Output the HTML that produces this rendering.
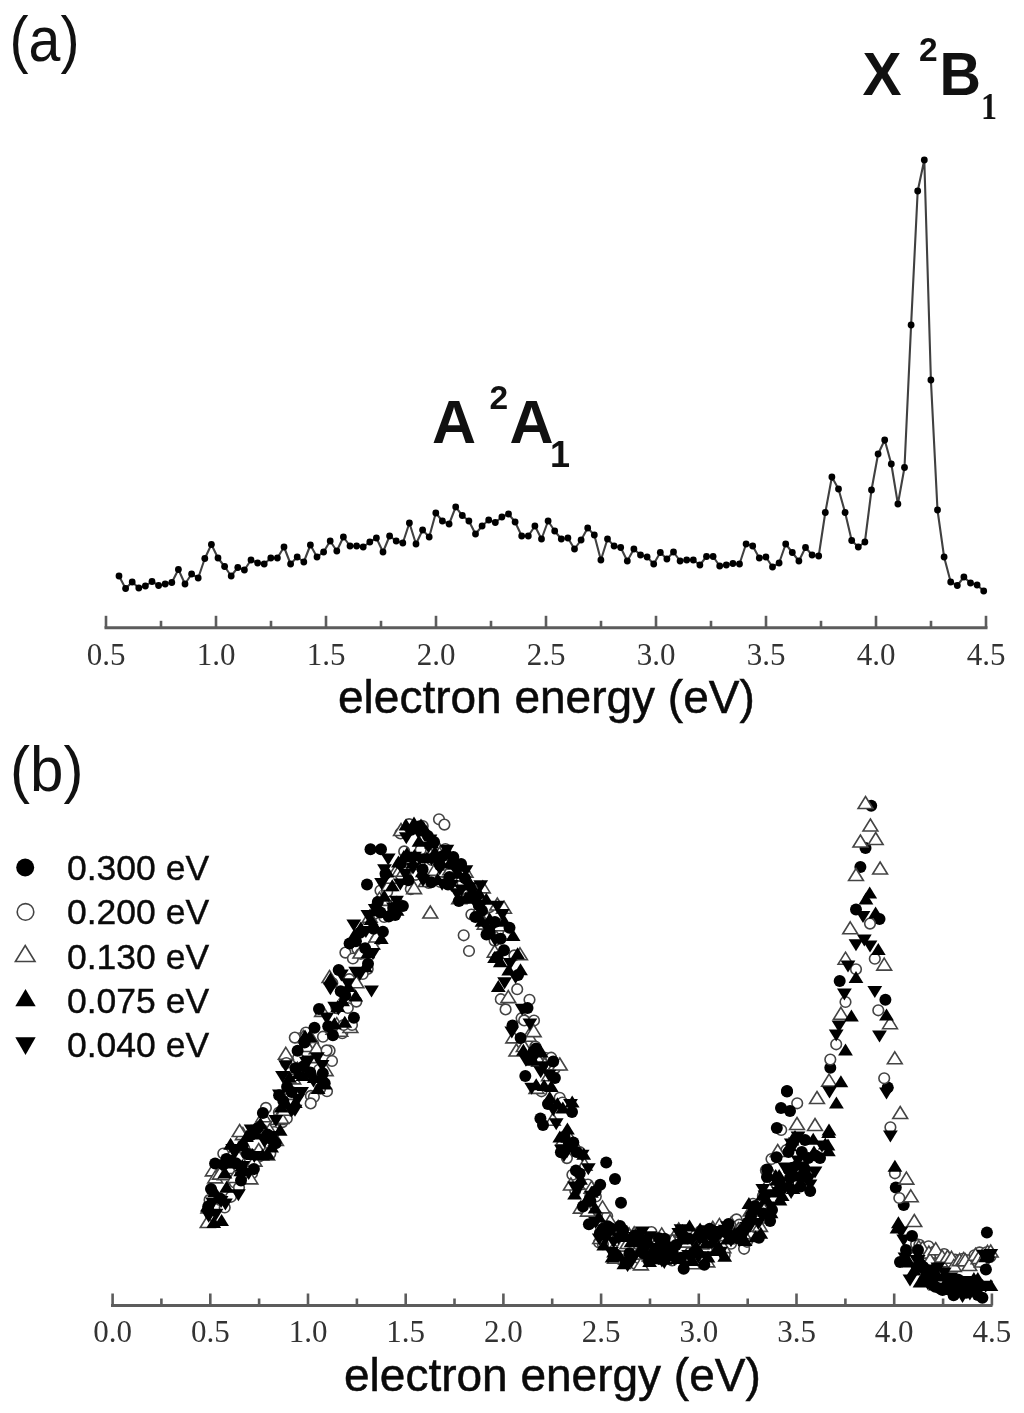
<!DOCTYPE html>
<html><head><meta charset="utf-8"><title>electron energy spectra</title>
<style>
html,body{margin:0;padding:0;background:#fff;}
body{width:1024px;height:1413px;overflow:hidden;}
svg{display:block;}
.tk{font-family:"Liberation Serif","Times New Roman",serif;font-size:31px;fill:#333;text-anchor:middle;}
.lab{font-family:"Liberation Sans",Arial,sans-serif;font-size:46px;fill:#0a0a0a;stroke:#0a0a0a;stroke-width:0.5px;}
.pl{font-family:"Liberation Sans",Arial,sans-serif;font-size:63px;fill:#111;}
.st{font-family:"Liberation Sans",Arial,sans-serif;font-weight:bold;fill:#111;}
.sc .o,.lgm .o{fill:#fff;stroke:#444;stroke-width:1.6;}
.lg{font-family:"Liberation Sans",Arial,sans-serif;font-size:35.5px;fill:#0a0a0a;stroke:#0a0a0a;stroke-width:0.4px;}
</style></head>
<body>
<svg width="1024" height="1413" viewBox="0 0 1024 1413">
<rect width="1024" height="1413" fill="#fff"/>
<text x="9.5" y="60.5" class="pl" textLength="70" lengthAdjust="spacingAndGlyphs">(a)</text>
<text x="10" y="791" class="pl" textLength="73.5" lengthAdjust="spacingAndGlyphs">(b)</text>
<text x="862.5" y="95.2" class="st" font-size="61" textLength="39" lengthAdjust="spacingAndGlyphs">X</text>
<text x="919" y="61.3" class="st" font-size="33.5">2</text>
<text x="939.5" y="95.2" class="st" font-size="61" textLength="41.5" lengthAdjust="spacingAndGlyphs">B</text>
<text x="981" y="119.2" font-family="Liberation Serif, serif" font-weight="bold" font-size="37" fill="#111" textLength="16" lengthAdjust="spacingAndGlyphs">1</text>
<text x="432" y="442.7" class="st" font-size="61">A</text>
<text x="489.5" y="409" class="st" font-size="33.5">2</text>
<text x="509.5" y="442.7" class="st" font-size="61">A</text>
<text x="550" y="467" class="st" font-size="36">1</text>
<text x="338" y="713" class="lab">electron energy (eV)</text>
<text x="344" y="1391" class="lab">electron energy (eV)</text>
<path d="M119 576 L125.6 588.5 L132.2 582 L138.8 588 L145.4 586 L152 581.5 L158.6 585.5 L165.2 584 L171.8 582.5 L178.4 569.5 L185 584 L191.6 574 L198.2 578 L204.8 558.5 L211.4 544.5 L218 558 L224.6 566.5 L231.2 576 L237.8 567.5 L244.4 570 L251 560 L257.6 563 L264.2 564 L270.8 558 L277.4 558 L284 547 L290.6 564 L297.2 557 L303.8 562 L310.4 545 L317 557 L323.6 552 L330.2 541 L336.8 551 L343.4 537 L350 546 L356.6 546 L363.2 547 L369.8 542 L376.4 538 L383 552 L389.6 536 L396.2 541 L402.8 543 L409.4 523 L416 544 L422.6 530 L429.2 537 L435.8 513 L442.4 521 L449.1 524 L455.7 507 L462.3 515.5 L468.9 521 L475.5 534 L482.1 526 L488.7 520 L495.3 522.5 L501.9 517 L508.5 514 L515.1 522 L521.7 536 L528.3 536 L534.9 526 L541.5 539 L548.1 521 L554.7 531 L561.3 539 L567.9 538 L574.5 549 L581.1 540 L587.7 528 L594.3 535 L600.9 560 L607.5 539 L614.1 546 L620.7 547.5 L627.3 561 L633.9 549 L640.5 555 L647.1 557 L653.7 564 L660.3 552.5 L666.9 559 L673.5 552 L680.1 561 L686.7 560 L693.3 560 L699.9 565 L706.5 556.5 L713.1 556.5 L719.7 566 L726.3 565 L732.9 563.5 L739.5 564 L746.1 544 L752.7 546 L759.3 558 L765.9 557 L772.5 567 L779.1 563 L785.7 544 L792.3 552.5 L798.9 561 L805.5 547.5 L812.1 555 L818.7 556 L825.3 512.5 L831.9 477 L838.5 489 L845.1 512.5 L851.7 540.5 L858.3 547 L864.9 542 L871.5 490 L878.1 454 L884.7 440 L891.3 464 L897.9 504 L904.5 467.5 L911.1 325 L917.7 191 L924.3 160 L930.9 380 L937.5 510 L944.1 557 L950.7 582 L957.3 585.5 L963.9 577 L970.5 583 L977.1 585 L983.7 591" fill="none" stroke="#404040" stroke-width="2.1" stroke-linejoin="round"/><g fill="#000"><circle cx="119" cy="576" r="3.4"/><circle cx="125.6" cy="588.5" r="3.4"/><circle cx="132.2" cy="582" r="3.4"/><circle cx="138.8" cy="588" r="3.4"/><circle cx="145.4" cy="586" r="3.4"/><circle cx="152" cy="581.5" r="3.4"/><circle cx="158.6" cy="585.5" r="3.4"/><circle cx="165.2" cy="584" r="3.4"/><circle cx="171.8" cy="582.5" r="3.4"/><circle cx="178.4" cy="569.5" r="3.4"/><circle cx="185" cy="584" r="3.4"/><circle cx="191.6" cy="574" r="3.4"/><circle cx="198.2" cy="578" r="3.4"/><circle cx="204.8" cy="558.5" r="3.4"/><circle cx="211.4" cy="544.5" r="3.4"/><circle cx="218" cy="558" r="3.4"/><circle cx="224.6" cy="566.5" r="3.4"/><circle cx="231.2" cy="576" r="3.4"/><circle cx="237.8" cy="567.5" r="3.4"/><circle cx="244.4" cy="570" r="3.4"/><circle cx="251" cy="560" r="3.4"/><circle cx="257.6" cy="563" r="3.4"/><circle cx="264.2" cy="564" r="3.4"/><circle cx="270.8" cy="558" r="3.4"/><circle cx="277.4" cy="558" r="3.4"/><circle cx="284" cy="547" r="3.4"/><circle cx="290.6" cy="564" r="3.4"/><circle cx="297.2" cy="557" r="3.4"/><circle cx="303.8" cy="562" r="3.4"/><circle cx="310.4" cy="545" r="3.4"/><circle cx="317" cy="557" r="3.4"/><circle cx="323.6" cy="552" r="3.4"/><circle cx="330.2" cy="541" r="3.4"/><circle cx="336.8" cy="551" r="3.4"/><circle cx="343.4" cy="537" r="3.4"/><circle cx="350" cy="546" r="3.4"/><circle cx="356.6" cy="546" r="3.4"/><circle cx="363.2" cy="547" r="3.4"/><circle cx="369.8" cy="542" r="3.4"/><circle cx="376.4" cy="538" r="3.4"/><circle cx="383" cy="552" r="3.4"/><circle cx="389.6" cy="536" r="3.4"/><circle cx="396.2" cy="541" r="3.4"/><circle cx="402.8" cy="543" r="3.4"/><circle cx="409.4" cy="523" r="3.4"/><circle cx="416" cy="544" r="3.4"/><circle cx="422.6" cy="530" r="3.4"/><circle cx="429.2" cy="537" r="3.4"/><circle cx="435.8" cy="513" r="3.4"/><circle cx="442.4" cy="521" r="3.4"/><circle cx="449.1" cy="524" r="3.4"/><circle cx="455.7" cy="507" r="3.4"/><circle cx="462.3" cy="515.5" r="3.4"/><circle cx="468.9" cy="521" r="3.4"/><circle cx="475.5" cy="534" r="3.4"/><circle cx="482.1" cy="526" r="3.4"/><circle cx="488.7" cy="520" r="3.4"/><circle cx="495.3" cy="522.5" r="3.4"/><circle cx="501.9" cy="517" r="3.4"/><circle cx="508.5" cy="514" r="3.4"/><circle cx="515.1" cy="522" r="3.4"/><circle cx="521.7" cy="536" r="3.4"/><circle cx="528.3" cy="536" r="3.4"/><circle cx="534.9" cy="526" r="3.4"/><circle cx="541.5" cy="539" r="3.4"/><circle cx="548.1" cy="521" r="3.4"/><circle cx="554.7" cy="531" r="3.4"/><circle cx="561.3" cy="539" r="3.4"/><circle cx="567.9" cy="538" r="3.4"/><circle cx="574.5" cy="549" r="3.4"/><circle cx="581.1" cy="540" r="3.4"/><circle cx="587.7" cy="528" r="3.4"/><circle cx="594.3" cy="535" r="3.4"/><circle cx="600.9" cy="560" r="3.4"/><circle cx="607.5" cy="539" r="3.4"/><circle cx="614.1" cy="546" r="3.4"/><circle cx="620.7" cy="547.5" r="3.4"/><circle cx="627.3" cy="561" r="3.4"/><circle cx="633.9" cy="549" r="3.4"/><circle cx="640.5" cy="555" r="3.4"/><circle cx="647.1" cy="557" r="3.4"/><circle cx="653.7" cy="564" r="3.4"/><circle cx="660.3" cy="552.5" r="3.4"/><circle cx="666.9" cy="559" r="3.4"/><circle cx="673.5" cy="552" r="3.4"/><circle cx="680.1" cy="561" r="3.4"/><circle cx="686.7" cy="560" r="3.4"/><circle cx="693.3" cy="560" r="3.4"/><circle cx="699.9" cy="565" r="3.4"/><circle cx="706.5" cy="556.5" r="3.4"/><circle cx="713.1" cy="556.5" r="3.4"/><circle cx="719.7" cy="566" r="3.4"/><circle cx="726.3" cy="565" r="3.4"/><circle cx="732.9" cy="563.5" r="3.4"/><circle cx="739.5" cy="564" r="3.4"/><circle cx="746.1" cy="544" r="3.4"/><circle cx="752.7" cy="546" r="3.4"/><circle cx="759.3" cy="558" r="3.4"/><circle cx="765.9" cy="557" r="3.4"/><circle cx="772.5" cy="567" r="3.4"/><circle cx="779.1" cy="563" r="3.4"/><circle cx="785.7" cy="544" r="3.4"/><circle cx="792.3" cy="552.5" r="3.4"/><circle cx="798.9" cy="561" r="3.4"/><circle cx="805.5" cy="547.5" r="3.4"/><circle cx="812.1" cy="555" r="3.4"/><circle cx="818.7" cy="556" r="3.4"/><circle cx="825.3" cy="512.5" r="3.4"/><circle cx="831.9" cy="477" r="3.4"/><circle cx="838.5" cy="489" r="3.4"/><circle cx="845.1" cy="512.5" r="3.4"/><circle cx="851.7" cy="540.5" r="3.4"/><circle cx="858.3" cy="547" r="3.4"/><circle cx="864.9" cy="542" r="3.4"/><circle cx="871.5" cy="490" r="3.4"/><circle cx="878.1" cy="454" r="3.4"/><circle cx="884.7" cy="440" r="3.4"/><circle cx="891.3" cy="464" r="3.4"/><circle cx="897.9" cy="504" r="3.4"/><circle cx="904.5" cy="467.5" r="3.4"/><circle cx="911.1" cy="325" r="3.4"/><circle cx="917.7" cy="191" r="3.4"/><circle cx="924.3" cy="160" r="3.4"/><circle cx="930.9" cy="380" r="3.4"/><circle cx="937.5" cy="510" r="3.4"/><circle cx="944.1" cy="557" r="3.4"/><circle cx="950.7" cy="582" r="3.4"/><circle cx="957.3" cy="585.5" r="3.4"/><circle cx="963.9" cy="577" r="3.4"/><circle cx="970.5" cy="583" r="3.4"/><circle cx="977.1" cy="585" r="3.4"/><circle cx="983.7" cy="591" r="3.4"/></g><line x1="104.5" y1="627.8" x2="987.5" y2="627.8" stroke="#5c5c5c" stroke-width="3"/><line x1="106" y1="627.8" x2="106" y2="615.8" stroke="#5c5c5c" stroke-width="2.6"/><text x="106" y="665" class="tk">0.5</text><line x1="161" y1="627.8" x2="161" y2="620.8" stroke="#5c5c5c" stroke-width="2.6"/><line x1="216" y1="627.8" x2="216" y2="615.8" stroke="#5c5c5c" stroke-width="2.6"/><text x="216" y="665" class="tk">1.0</text><line x1="271" y1="627.8" x2="271" y2="620.8" stroke="#5c5c5c" stroke-width="2.6"/><line x1="326" y1="627.8" x2="326" y2="615.8" stroke="#5c5c5c" stroke-width="2.6"/><text x="326" y="665" class="tk">1.5</text><line x1="381" y1="627.8" x2="381" y2="620.8" stroke="#5c5c5c" stroke-width="2.6"/><line x1="436" y1="627.8" x2="436" y2="615.8" stroke="#5c5c5c" stroke-width="2.6"/><text x="436" y="665" class="tk">2.0</text><line x1="491" y1="627.8" x2="491" y2="620.8" stroke="#5c5c5c" stroke-width="2.6"/><line x1="546" y1="627.8" x2="546" y2="615.8" stroke="#5c5c5c" stroke-width="2.6"/><text x="546" y="665" class="tk">2.5</text><line x1="601" y1="627.8" x2="601" y2="620.8" stroke="#5c5c5c" stroke-width="2.6"/><line x1="656" y1="627.8" x2="656" y2="615.8" stroke="#5c5c5c" stroke-width="2.6"/><text x="656" y="665" class="tk">3.0</text><line x1="711" y1="627.8" x2="711" y2="620.8" stroke="#5c5c5c" stroke-width="2.6"/><line x1="766" y1="627.8" x2="766" y2="615.8" stroke="#5c5c5c" stroke-width="2.6"/><text x="766" y="665" class="tk">3.5</text><line x1="821" y1="627.8" x2="821" y2="620.8" stroke="#5c5c5c" stroke-width="2.6"/><line x1="876" y1="627.8" x2="876" y2="615.8" stroke="#5c5c5c" stroke-width="2.6"/><text x="876" y="665" class="tk">4.0</text><line x1="931" y1="627.8" x2="931" y2="620.8" stroke="#5c5c5c" stroke-width="2.6"/><line x1="986" y1="627.8" x2="986" y2="615.8" stroke="#5c5c5c" stroke-width="2.6"/><text x="986" y="665" class="tk">4.5</text><line x1="111" y1="1305.5" x2="992.5" y2="1305.5" stroke="#5c5c5c" stroke-width="3"/><line x1="112.6" y1="1305.5" x2="112.6" y2="1293.5" stroke="#5c5c5c" stroke-width="2.6"/><text x="112.6" y="1342.3" class="tk">0.0</text><line x1="161.4" y1="1305.5" x2="161.4" y2="1298.5" stroke="#5c5c5c" stroke-width="2.6"/><line x1="210.3" y1="1305.5" x2="210.3" y2="1293.5" stroke="#5c5c5c" stroke-width="2.6"/><text x="210.3" y="1342.3" class="tk">0.5</text><line x1="259.1" y1="1305.5" x2="259.1" y2="1298.5" stroke="#5c5c5c" stroke-width="2.6"/><line x1="308" y1="1305.5" x2="308" y2="1293.5" stroke="#5c5c5c" stroke-width="2.6"/><text x="308" y="1342.3" class="tk">1.0</text><line x1="356.9" y1="1305.5" x2="356.9" y2="1298.5" stroke="#5c5c5c" stroke-width="2.6"/><line x1="405.7" y1="1305.5" x2="405.7" y2="1293.5" stroke="#5c5c5c" stroke-width="2.6"/><text x="405.7" y="1342.3" class="tk">1.5</text><line x1="454.5" y1="1305.5" x2="454.5" y2="1298.5" stroke="#5c5c5c" stroke-width="2.6"/><line x1="503.4" y1="1305.5" x2="503.4" y2="1293.5" stroke="#5c5c5c" stroke-width="2.6"/><text x="503.4" y="1342.3" class="tk">2.0</text><line x1="552.2" y1="1305.5" x2="552.2" y2="1298.5" stroke="#5c5c5c" stroke-width="2.6"/><line x1="601.1" y1="1305.5" x2="601.1" y2="1293.5" stroke="#5c5c5c" stroke-width="2.6"/><text x="601.1" y="1342.3" class="tk">2.5</text><line x1="650" y1="1305.5" x2="650" y2="1298.5" stroke="#5c5c5c" stroke-width="2.6"/><line x1="698.8" y1="1305.5" x2="698.8" y2="1293.5" stroke="#5c5c5c" stroke-width="2.6"/><text x="698.8" y="1342.3" class="tk">3.0</text><line x1="747.7" y1="1305.5" x2="747.7" y2="1298.5" stroke="#5c5c5c" stroke-width="2.6"/><line x1="796.5" y1="1305.5" x2="796.5" y2="1293.5" stroke="#5c5c5c" stroke-width="2.6"/><text x="796.5" y="1342.3" class="tk">3.5</text><line x1="845.4" y1="1305.5" x2="845.4" y2="1298.5" stroke="#5c5c5c" stroke-width="2.6"/><line x1="894.2" y1="1305.5" x2="894.2" y2="1293.5" stroke="#5c5c5c" stroke-width="2.6"/><text x="894.2" y="1342.3" class="tk">4.0</text><line x1="943.1" y1="1305.5" x2="943.1" y2="1298.5" stroke="#5c5c5c" stroke-width="2.6"/><line x1="991.9" y1="1305.5" x2="991.9" y2="1293.5" stroke="#5c5c5c" stroke-width="2.6"/><text x="991.9" y="1342.3" class="tk">4.5</text>
<g class="sc"><circle cx="209.6" cy="1199.9" r="5.3" class="o"/><circle cx="211" cy="1215.3" r="5.3" class="o"/><circle cx="216.2" cy="1164.5" r="5.3" class="o"/><circle cx="220.1" cy="1200" r="5.3" class="o"/><circle cx="223.3" cy="1153.5" r="5.3" class="o"/><circle cx="229.1" cy="1173" r="5.3" class="o"/><circle cx="233.2" cy="1185.9" r="5.3" class="o"/><circle cx="234.8" cy="1182.5" r="5.3" class="o"/><circle cx="239" cy="1187.6" r="5.3" class="o"/><circle cx="244.3" cy="1148.5" r="5.3" class="o"/><circle cx="248.8" cy="1153.9" r="5.3" class="o"/><circle cx="252.1" cy="1173.2" r="5.3" class="o"/><circle cx="254.5" cy="1155.2" r="5.3" class="o"/><circle cx="259.3" cy="1156.4" r="5.3" class="o"/><circle cx="262.1" cy="1129.6" r="5.3" class="o"/><circle cx="265.9" cy="1107.9" r="5.3" class="o"/><circle cx="270.3" cy="1153.6" r="5.3" class="o"/><circle cx="274.3" cy="1132.1" r="5.3" class="o"/><circle cx="278.9" cy="1112.5" r="5.3" class="o"/><circle cx="282.4" cy="1122.1" r="5.3" class="o"/><circle cx="286.8" cy="1118.5" r="5.3" class="o"/><circle cx="290.2" cy="1110.3" r="5.3" class="o"/><circle cx="294.6" cy="1064.1" r="5.3" class="o"/><circle cx="298.1" cy="1058.1" r="5.3" class="o"/><circle cx="300.9" cy="1038.1" r="5.3" class="o"/><circle cx="305.9" cy="1032.5" r="5.3" class="o"/><circle cx="310.9" cy="1095.9" r="5.3" class="o"/><circle cx="313.2" cy="1044.2" r="5.3" class="o"/><circle cx="319.1" cy="1069.8" r="5.3" class="o"/><circle cx="323" cy="1036.7" r="5.3" class="o"/><circle cx="327" cy="1091.2" r="5.3" class="o"/><circle cx="329.6" cy="1050.6" r="5.3" class="o"/><circle cx="332.3" cy="983" r="5.3" class="o"/><circle cx="336.5" cy="1008.1" r="5.3" class="o"/><circle cx="342.3" cy="1033.2" r="5.3" class="o"/><circle cx="345.4" cy="952.6" r="5.3" class="o"/><circle cx="349.2" cy="979.2" r="5.3" class="o"/><circle cx="352.9" cy="958.5" r="5.3" class="o"/><circle cx="357.4" cy="948.9" r="5.3" class="o"/><circle cx="360.8" cy="953.8" r="5.3" class="o"/><circle cx="365.7" cy="951.7" r="5.3" class="o"/><circle cx="367.7" cy="968.9" r="5.3" class="o"/><circle cx="373.4" cy="914.4" r="5.3" class="o"/><circle cx="376.4" cy="939.8" r="5.3" class="o"/><circle cx="380.5" cy="890.5" r="5.3" class="o"/><circle cx="384.1" cy="917" r="5.3" class="o"/><circle cx="387.2" cy="891.8" r="5.3" class="o"/><circle cx="392.6" cy="913.4" r="5.3" class="o"/><circle cx="396.7" cy="901.9" r="5.3" class="o"/><circle cx="400.5" cy="833.4" r="5.3" class="o"/><circle cx="404.2" cy="851.4" r="5.3" class="o"/><circle cx="409.1" cy="824.2" r="5.3" class="o"/><circle cx="410.8" cy="889.1" r="5.3" class="o"/><circle cx="415.8" cy="874.8" r="5.3" class="o"/><circle cx="420.7" cy="849.8" r="5.3" class="o"/><circle cx="422.7" cy="826" r="5.3" class="o"/><circle cx="428.7" cy="882.9" r="5.3" class="o"/><circle cx="431.8" cy="860" r="5.3" class="o"/><circle cx="435.1" cy="846" r="5.3" class="o"/><circle cx="440.4" cy="882" r="5.3" class="o"/><circle cx="443.4" cy="868.6" r="5.3" class="o"/><circle cx="445.4" cy="849.1" r="5.3" class="o"/><circle cx="450.8" cy="876.1" r="5.3" class="o"/><circle cx="455.5" cy="880.8" r="5.3" class="o"/><circle cx="457.9" cy="880.6" r="5.3" class="o"/><circle cx="462.6" cy="883.4" r="5.3" class="o"/><circle cx="466.9" cy="898" r="5.3" class="o"/><circle cx="471.4" cy="914.5" r="5.3" class="o"/><circle cx="473.3" cy="890.3" r="5.3" class="o"/><circle cx="479" cy="906.1" r="5.3" class="o"/><circle cx="483.3" cy="916.7" r="5.3" class="o"/><circle cx="484.6" cy="917.6" r="5.3" class="o"/><circle cx="489.4" cy="907.1" r="5.3" class="o"/><circle cx="494.6" cy="940.6" r="5.3" class="o"/><circle cx="498.4" cy="932.6" r="5.3" class="o"/><circle cx="500.8" cy="999.2" r="5.3" class="o"/><circle cx="505.6" cy="1009.4" r="5.3" class="o"/><circle cx="508.3" cy="934" r="5.3" class="o"/><circle cx="514.4" cy="955.4" r="5.3" class="o"/><circle cx="517.2" cy="989.2" r="5.3" class="o"/><circle cx="521.6" cy="1018.2" r="5.3" class="o"/><circle cx="524.2" cy="1020.4" r="5.3" class="o"/><circle cx="529.5" cy="999.8" r="5.3" class="o"/><circle cx="534" cy="1020.5" r="5.3" class="o"/><circle cx="535.3" cy="1046.6" r="5.3" class="o"/><circle cx="541.5" cy="1091.3" r="5.3" class="o"/><circle cx="545.3" cy="1057.8" r="5.3" class="o"/><circle cx="547.6" cy="1061" r="5.3" class="o"/><circle cx="551.2" cy="1057.7" r="5.3" class="o"/><circle cx="555.1" cy="1068.1" r="5.3" class="o"/><circle cx="559.7" cy="1097.8" r="5.3" class="o"/><circle cx="562.5" cy="1102.5" r="5.3" class="o"/><circle cx="566.9" cy="1158.1" r="5.3" class="o"/><circle cx="572.4" cy="1174.8" r="5.3" class="o"/><circle cx="575.2" cy="1190.6" r="5.3" class="o"/><circle cx="579.8" cy="1152.2" r="5.3" class="o"/><circle cx="582.7" cy="1184.2" r="5.3" class="o"/><circle cx="587.9" cy="1184.6" r="5.3" class="o"/><circle cx="590.3" cy="1196.3" r="5.3" class="o"/><circle cx="595.8" cy="1196.5" r="5.3" class="o"/><circle cx="599.1" cy="1242.5" r="5.3" class="o"/><circle cx="602.9" cy="1244.2" r="5.3" class="o"/><circle cx="607.2" cy="1216.3" r="5.3" class="o"/><circle cx="610.3" cy="1233.6" r="5.3" class="o"/><circle cx="613.9" cy="1250.5" r="5.3" class="o"/><circle cx="617.9" cy="1235.8" r="5.3" class="o"/><circle cx="621.2" cy="1259.8" r="5.3" class="o"/><circle cx="627.7" cy="1237.4" r="5.3" class="o"/><circle cx="629.5" cy="1262" r="5.3" class="o"/><circle cx="634.9" cy="1263.6" r="5.3" class="o"/><circle cx="638.7" cy="1258" r="5.3" class="o"/><circle cx="641.5" cy="1252.5" r="5.3" class="o"/><circle cx="645.3" cy="1257.7" r="5.3" class="o"/><circle cx="651.4" cy="1232.1" r="5.3" class="o"/><circle cx="653.4" cy="1252.7" r="5.3" class="o"/><circle cx="658.6" cy="1237.9" r="5.3" class="o"/><circle cx="660.8" cy="1251.6" r="5.3" class="o"/><circle cx="664.1" cy="1249.6" r="5.3" class="o"/><circle cx="670.4" cy="1240.7" r="5.3" class="o"/><circle cx="672.2" cy="1260.5" r="5.3" class="o"/><circle cx="676.9" cy="1237.3" r="5.3" class="o"/><circle cx="679.8" cy="1237.1" r="5.3" class="o"/><circle cx="685.9" cy="1257.2" r="5.3" class="o"/><circle cx="690.5" cy="1252.1" r="5.3" class="o"/><circle cx="694.1" cy="1246.4" r="5.3" class="o"/><circle cx="695.8" cy="1235.3" r="5.3" class="o"/><circle cx="700.4" cy="1231.4" r="5.3" class="o"/><circle cx="705.3" cy="1240.2" r="5.3" class="o"/><circle cx="708" cy="1242.9" r="5.3" class="o"/><circle cx="711.1" cy="1232.9" r="5.3" class="o"/><circle cx="717.1" cy="1248.4" r="5.3" class="o"/><circle cx="719.7" cy="1235.8" r="5.3" class="o"/><circle cx="724.7" cy="1254.9" r="5.3" class="o"/><circle cx="727.9" cy="1235" r="5.3" class="o"/><circle cx="731" cy="1243.7" r="5.3" class="o"/><circle cx="736.5" cy="1219.4" r="5.3" class="o"/><circle cx="739.3" cy="1224.7" r="5.3" class="o"/><circle cx="744.1" cy="1248.8" r="5.3" class="o"/><circle cx="747" cy="1241.8" r="5.3" class="o"/><circle cx="753" cy="1203.8" r="5.3" class="o"/><circle cx="755.4" cy="1227.2" r="5.3" class="o"/><circle cx="758.8" cy="1228.4" r="5.3" class="o"/><circle cx="762.9" cy="1196.1" r="5.3" class="o"/><circle cx="765.9" cy="1170.3" r="5.3" class="o"/><circle cx="916.1" cy="1244.1" r="5.3" class="o"/><circle cx="919.4" cy="1244.8" r="5.3" class="o"/><circle cx="923.8" cy="1255.7" r="5.3" class="o"/><circle cx="928.5" cy="1246.3" r="5.3" class="o"/><circle cx="931.4" cy="1262.2" r="5.3" class="o"/><circle cx="934.3" cy="1251.7" r="5.3" class="o"/><circle cx="940" cy="1257.9" r="5.3" class="o"/><circle cx="944.1" cy="1254.1" r="5.3" class="o"/><circle cx="947.3" cy="1264.1" r="5.3" class="o"/><circle cx="950.2" cy="1262" r="5.3" class="o"/><circle cx="955.1" cy="1259.6" r="5.3" class="o"/><circle cx="959.1" cy="1260.2" r="5.3" class="o"/><circle cx="962.8" cy="1258.8" r="5.3" class="o"/><circle cx="966.8" cy="1260.5" r="5.3" class="o"/><circle cx="969.6" cy="1260.1" r="5.3" class="o"/><circle cx="974.5" cy="1255.3" r="5.3" class="o"/><circle cx="979.6" cy="1252.4" r="5.3" class="o"/><circle cx="983.6" cy="1263.2" r="5.3" class="o"/><circle cx="986.5" cy="1252.3" r="5.3" class="o"/><circle cx="990.4" cy="1256.7" r="5.3" class="o"/><path d="M208.4 1201L215.8 1213L201 1213Z" class="o"/><path d="M212.8 1163.9L220.2 1175.9L205.4 1175.9Z" class="o"/><path d="M215.2 1170.9L222.6 1182.9L207.8 1182.9Z" class="o"/><path d="M219.9 1167.1L227.3 1179.1L212.5 1179.1Z" class="o"/><path d="M224.8 1167.7L232.2 1179.7L217.4 1179.7Z" class="o"/><path d="M229.3 1161.5L236.7 1173.5L221.9 1173.5Z" class="o"/><path d="M230.6 1149.9L238 1161.9L223.2 1161.9Z" class="o"/><path d="M234.6 1170.5L242 1182.5L227.2 1182.5Z" class="o"/><path d="M238.7 1150.6L246.1 1162.6L231.3 1162.6Z" class="o"/><path d="M242.9 1127.6L250.3 1139.6L235.5 1139.6Z" class="o"/><path d="M247.6 1170.8L255 1182.8L240.2 1182.8Z" class="o"/><path d="M250.4 1171.9L257.8 1183.9L243 1183.9Z" class="o"/><path d="M254.5 1154.1L261.9 1166.1L247.1 1166.1Z" class="o"/><path d="M259.5 1121.9L266.9 1133.9L252.1 1133.9Z" class="o"/><path d="M263.3 1109.7L270.7 1121.7L255.9 1121.7Z" class="o"/><path d="M265.5 1146.9L272.9 1158.9L258.1 1158.9Z" class="o"/><path d="M269.6 1123.7L277 1135.7L262.2 1135.7Z" class="o"/><path d="M276 1133.5L283.4 1145.5L268.6 1145.5Z" class="o"/><path d="M277.4 1112.5L284.8 1124.5L270 1124.5Z" class="o"/><path d="M281.3 1111.4L288.7 1123.4L273.9 1123.4Z" class="o"/><path d="M285.8 1047.3L293.2 1059.3L278.4 1059.3Z" class="o"/><path d="M289.9 1087.4L297.3 1099.4L282.5 1099.4Z" class="o"/><path d="M293.2 1071.9L300.6 1083.9L285.8 1083.9Z" class="o"/><path d="M297.4 1062.3L304.8 1074.3L290 1074.3Z" class="o"/><path d="M303.3 1030.4L310.7 1042.4L295.9 1042.4Z" class="o"/><path d="M307 1039.5L314.4 1051.5L299.6 1051.5Z" class="o"/><path d="M310.5 1030.5L317.9 1042.5L303.1 1042.5Z" class="o"/><path d="M314.5 1050.6L321.9 1062.6L307.1 1062.6Z" class="o"/><path d="M316.7 1041.8L324.1 1053.8L309.3 1053.8Z" class="o"/><path d="M322.1 1004.4L329.5 1016.4L314.7 1016.4Z" class="o"/><path d="M325.7 1063.6L333.1 1075.6L318.3 1075.6Z" class="o"/><path d="M329.5 970.5L336.9 982.5L322.1 982.5Z" class="o"/><path d="M333.5 1022.2L340.9 1034.2L326.1 1034.2Z" class="o"/><path d="M336.7 1017.7L344.1 1029.7L329.3 1029.7Z" class="o"/><path d="M340.3 1024.3L347.7 1036.3L332.9 1036.3Z" class="o"/><path d="M346.5 987.5L353.9 999.5L339.1 999.5Z" class="o"/><path d="M350.4 1020.5L357.8 1032.5L343 1032.5Z" class="o"/><path d="M352 985.4L359.4 997.4L344.6 997.4Z" class="o"/><path d="M356.4 975.8L363.8 987.8L349 987.8Z" class="o"/><path d="M360.4 946L367.8 958L353 958Z" class="o"/><path d="M365.7 919.5L373.1 931.5L358.3 931.5Z" class="o"/><path d="M369.7 910.2L377.1 922.2L362.3 922.2Z" class="o"/><path d="M372.2 937.1L379.6 949.1L364.8 949.1Z" class="o"/><path d="M376.4 930L383.8 942L369 942Z" class="o"/><path d="M379.4 892.2L386.8 904.2L372 904.2Z" class="o"/><path d="M383.7 893.4L391.1 905.4L376.3 905.4Z" class="o"/><path d="M388.8 878.5L396.2 890.5L381.4 890.5Z" class="o"/><path d="M392.4 871.3L399.8 883.3L385 883.3Z" class="o"/><path d="M396.9 862.8L404.3 874.8L389.5 874.8Z" class="o"/><path d="M399.4 864.2L406.8 876.2L392 876.2Z" class="o"/><path d="M404.2 864.2L411.6 876.2L396.8 876.2Z" class="o"/><path d="M408 872.3L415.4 884.3L400.6 884.3Z" class="o"/><path d="M411.7 852.9L419.1 864.9L404.3 864.9Z" class="o"/><path d="M414.1 881.6L421.5 893.6L406.7 893.6Z" class="o"/><path d="M419.5 855.2L426.9 867.2L412.1 867.2Z" class="o"/><path d="M422.5 821L429.9 833L415.1 833Z" class="o"/><path d="M425.9 874.5L433.3 886.5L418.5 886.5Z" class="o"/><path d="M432.5 870L439.9 882L425.1 882Z" class="o"/><path d="M434.8 863.4L442.2 875.4L427.4 875.4Z" class="o"/><path d="M439.6 847.1L447 859.1L432.2 859.1Z" class="o"/><path d="M443.1 864.7L450.5 876.7L435.7 876.7Z" class="o"/><path d="M446 858L453.4 870L438.6 870Z" class="o"/><path d="M450.3 862.7L457.7 874.7L442.9 874.7Z" class="o"/><path d="M455.4 856.8L462.8 868.8L448 868.8Z" class="o"/><path d="M459.2 891.8L466.6 903.8L451.8 903.8Z" class="o"/><path d="M462.9 869.1L470.3 881.1L455.5 881.1Z" class="o"/><path d="M465.6 865.1L473 877.1L458.2 877.1Z" class="o"/><path d="M471.4 885.1L478.8 897.1L464 897.1Z" class="o"/><path d="M473.7 884.3L481.1 896.3L466.3 896.3Z" class="o"/><path d="M477 906.3L484.4 918.3L469.6 918.3Z" class="o"/><path d="M482.8 880.9L490.2 892.9L475.4 892.9Z" class="o"/><path d="M484.7 917.1L492.1 929.1L477.3 929.1Z" class="o"/><path d="M491.1 922.5L498.5 934.5L483.7 934.5Z" class="o"/><path d="M494.7 945.1L502.1 957.1L487.3 957.1Z" class="o"/><path d="M497.3 898L504.7 910L489.9 910Z" class="o"/><path d="M500.1 918.7L507.5 930.7L492.7 930.7Z" class="o"/><path d="M504 901.2L511.4 913.2L496.6 913.2Z" class="o"/><path d="M508.3 990.6L515.7 1002.6L500.9 1002.6Z" class="o"/><path d="M513.3 1030.9L520.7 1042.9L505.9 1042.9Z" class="o"/><path d="M516.4 1044L523.8 1056L509 1056Z" class="o"/><path d="M520 947.8L527.4 959.8L512.6 959.8Z" class="o"/><path d="M523.8 1039.5L531.2 1051.5L516.4 1051.5Z" class="o"/><path d="M528.7 1029.2L536.1 1041.2L521.3 1041.2Z" class="o"/><path d="M533.7 1024.6L541.1 1036.6L526.3 1036.6Z" class="o"/><path d="M536.5 1081.4L543.9 1093.4L529.1 1093.4Z" class="o"/><path d="M539.1 1054.3L546.5 1066.3L531.7 1066.3Z" class="o"/><path d="M544.8 1057.9L552.2 1069.9L537.4 1069.9Z" class="o"/><path d="M549 1068.7L556.4 1080.7L541.6 1080.7Z" class="o"/><path d="M552.8 1113.2L560.2 1125.2L545.4 1125.2Z" class="o"/><path d="M555.9 1057.8L563.3 1069.8L548.5 1069.8Z" class="o"/><path d="M559.8 1058L567.2 1070L552.4 1070Z" class="o"/><path d="M563.5 1132.8L570.9 1144.8L556.1 1144.8Z" class="o"/><path d="M569.1 1130.3L576.5 1142.3L561.7 1142.3Z" class="o"/><path d="M570.9 1178L578.3 1190L563.5 1190Z" class="o"/><path d="M575.3 1139.5L582.7 1151.5L567.9 1151.5Z" class="o"/><path d="M580.8 1201.1L588.2 1213.1L573.4 1213.1Z" class="o"/><path d="M584.5 1158.1L591.9 1170.1L577.1 1170.1Z" class="o"/><path d="M587.9 1204.1L595.3 1216.1L580.5 1216.1Z" class="o"/><path d="M591.5 1181.2L598.9 1193.2L584.1 1193.2Z" class="o"/><path d="M596.6 1213.7L604 1225.7L589.2 1225.7Z" class="o"/><path d="M600.2 1231.5L607.6 1243.5L592.8 1243.5Z" class="o"/><path d="M602.5 1200.9L609.9 1212.9L595.1 1212.9Z" class="o"/><path d="M605.8 1222.6L613.2 1234.6L598.4 1234.6Z" class="o"/><path d="M610.1 1214.6L617.5 1226.6L602.7 1226.6Z" class="o"/><path d="M615 1251.2L622.4 1263.2L607.6 1263.2Z" class="o"/><path d="M618.2 1220.5L625.6 1232.5L610.8 1232.5Z" class="o"/><path d="M622 1239.1L629.4 1251.1L614.6 1251.1Z" class="o"/><path d="M627.5 1236.5L634.9 1248.5L620.1 1248.5Z" class="o"/><path d="M629.1 1227.8L636.5 1239.8L621.7 1239.8Z" class="o"/><path d="M634.2 1226.8L641.6 1238.8L626.8 1238.8Z" class="o"/><path d="M637.8 1247.1L645.2 1259.1L630.4 1259.1Z" class="o"/><path d="M640.9 1257.9L648.3 1269.9L633.5 1269.9Z" class="o"/><path d="M644.8 1233.7L652.2 1245.7L637.4 1245.7Z" class="o"/><path d="M649.8 1249L657.2 1261L642.4 1261Z" class="o"/><path d="M654.7 1241.9L662.1 1253.9L647.3 1253.9Z" class="o"/><path d="M658.1 1233.5L665.5 1245.5L650.7 1245.5Z" class="o"/><path d="M661.7 1227.9L669.1 1239.9L654.3 1239.9Z" class="o"/><path d="M665.4 1241.6L672.8 1253.6L658 1253.6Z" class="o"/><path d="M668.4 1237.3L675.8 1249.3L661 1249.3Z" class="o"/><path d="M672.4 1234L679.8 1246L665 1246Z" class="o"/><path d="M678.7 1223L686.1 1235L671.3 1235Z" class="o"/><path d="M682.4 1225.3L689.8 1237.3L675 1237.3Z" class="o"/><path d="M684.3 1229.4L691.7 1241.4L676.9 1241.4Z" class="o"/><path d="M687.6 1235.1L695 1247.1L680.2 1247.1Z" class="o"/><path d="M692.6 1256.8L700 1268.8L685.2 1268.8Z" class="o"/><path d="M696 1240.8L703.4 1252.8L688.6 1252.8Z" class="o"/><path d="M701.3 1237L708.7 1249L693.9 1249Z" class="o"/><path d="M704.2 1229.4L711.6 1241.4L696.8 1241.4Z" class="o"/><path d="M707.3 1254.9L714.7 1266.9L699.9 1266.9Z" class="o"/><path d="M712.8 1221.3L720.2 1233.3L705.4 1233.3Z" class="o"/><path d="M715.3 1226.1L722.7 1238.1L707.9 1238.1Z" class="o"/><path d="M719.4 1218.4L726.8 1230.4L712 1230.4Z" class="o"/><path d="M723.4 1240.6L730.8 1252.6L716 1252.6Z" class="o"/><path d="M726.8 1228.5L734.2 1240.5L719.4 1240.5Z" class="o"/><path d="M731.2 1216.9L738.6 1228.9L723.8 1228.9Z" class="o"/><path d="M735.6 1225.2L743 1237.2L728.2 1237.2Z" class="o"/><path d="M738.4 1222.7L745.8 1234.7L731 1234.7Z" class="o"/><path d="M743.3 1226.9L750.7 1238.9L735.9 1238.9Z" class="o"/><path d="M748.8 1213.2L756.2 1225.2L741.4 1225.2Z" class="o"/><path d="M750.6 1203.9L758 1215.9L743.2 1215.9Z" class="o"/><path d="M755.6 1219.2L763 1231.2L748.2 1231.2Z" class="o"/><path d="M760 1219.4L767.4 1231.4L752.6 1231.4Z" class="o"/><path d="M764 1203.3L771.4 1215.3L756.6 1215.3Z" class="o"/><path d="M766 1211L773.4 1223L758.6 1223Z" class="o"/><path d="M769.8 1164.6L777.2 1176.6L762.4 1176.6Z" class="o"/><path d="M918.8 1240.7L926.2 1252.7L911.4 1252.7Z" class="o"/><path d="M922.5 1241.4L929.9 1253.4L915.1 1253.4Z" class="o"/><path d="M928.9 1246.1L936.3 1258.1L921.5 1258.1Z" class="o"/><path d="M930 1253.3L937.4 1265.3L922.6 1265.3Z" class="o"/><path d="M935.7 1242.7L943.1 1254.7L928.3 1254.7Z" class="o"/><path d="M940.4 1254.9L947.8 1266.9L933 1266.9Z" class="o"/><path d="M942.1 1250.1L949.5 1262.1L934.7 1262.1Z" class="o"/><path d="M947.6 1250.3L955 1262.3L940.2 1262.3Z" class="o"/><path d="M951.5 1251.3L958.9 1263.3L944.1 1263.3Z" class="o"/><path d="M953.9 1259.4L961.3 1271.4L946.5 1271.4Z" class="o"/><path d="M959.6 1253.6L967 1265.6L952.2 1265.6Z" class="o"/><path d="M963.7 1252.4L971.1 1264.4L956.3 1264.4Z" class="o"/><path d="M965.2 1253.7L972.6 1265.7L957.8 1265.7Z" class="o"/><path d="M969.3 1258.5L976.7 1270.5L961.9 1270.5Z" class="o"/><path d="M975.5 1248.3L982.9 1260.3L968.1 1260.3Z" class="o"/><path d="M978.6 1251.6L986 1263.6L971.2 1263.6Z" class="o"/><path d="M981.8 1255L989.2 1267L974.4 1267Z" class="o"/><path d="M987.5 1245.3L994.9 1257.3L980.1 1257.3Z" class="o"/><path d="M990.7 1245L998.1 1257L983.3 1257Z" class="o"/><circle cx="797.2" cy="1103.3" r="5.3" class="o"/><circle cx="781.2" cy="1130" r="5.3" class="o"/><circle cx="771.5" cy="1159" r="5.3" class="o"/><circle cx="786.5" cy="1150" r="5.3" class="o"/><circle cx="320.2" cy="1088.6" r="5.3" class="o"/><circle cx="313.9" cy="1097" r="5.3" class="o"/><circle cx="310.7" cy="1103.4" r="5.3" class="o"/><circle cx="326.6" cy="1050.4" r="5.3" class="o"/><circle cx="332" cy="1061" r="5.3" class="o"/><circle cx="343.6" cy="1025" r="5.3" class="o"/><circle cx="352" cy="1025" r="5.3" class="o"/><circle cx="356.3" cy="1001.6" r="5.3" class="o"/><circle cx="347.8" cy="1008" r="5.3" class="o"/><circle cx="362.7" cy="974" r="5.3" class="o"/><circle cx="224.7" cy="1207.5" r="5.3" class="o"/><circle cx="231" cy="1196.8" r="5.3" class="o"/><circle cx="294.8" cy="1037.6" r="5.3" class="o"/><circle cx="286.3" cy="1063" r="5.3" class="o"/><circle cx="439" cy="819.3" r="5.3" class="o"/><circle cx="444.4" cy="824.6" r="5.3" class="o"/><circle cx="463.7" cy="935.3" r="5.3" class="o"/><circle cx="469" cy="951" r="5.3" class="o"/><path d="M401 823.5L408.4 835.5L393.6 835.5Z" class="o"/><path d="M817 1091.5L824.4 1103.5L809.6 1103.5Z" class="o"/><path d="M797 1117.5L804.4 1129.5L789.6 1129.5Z" class="o"/><path d="M815 1118.5L822.4 1130.5L807.6 1130.5Z" class="o"/><path d="M777.7 1144.5L785.1 1156.5L770.3 1156.5Z" class="o"/><path d="M767 1178.5L774.4 1190.5L759.6 1190.5Z" class="o"/><path d="M207.7 1215.5L215.1 1227.5L200.3 1227.5Z" class="o"/><path d="M239.6 1124.5L247 1136.5L232.2 1136.5Z" class="o"/><path d="M258.7 1143.5L266.1 1155.5L251.3 1155.5Z" class="o"/><path d="M267.2 1147.9L274.6 1159.9L259.8 1159.9Z" class="o"/><path d="M284 1103.3L291.4 1115.3L276.6 1115.3Z" class="o"/><path d="M430.3 906L437.7 918L422.9 918Z" class="o"/><circle cx="208.2" cy="1206.6" r="6.0"/><circle cx="211" cy="1189.1" r="6.0"/><circle cx="215.1" cy="1163.5" r="6.0"/><circle cx="220.1" cy="1198.4" r="6.0"/><circle cx="223.4" cy="1164.4" r="6.0"/><circle cx="226.4" cy="1159.1" r="6.0"/><circle cx="230.6" cy="1162.1" r="6.0"/><circle cx="235.9" cy="1163.2" r="6.0"/><circle cx="241" cy="1180.4" r="6.0"/><circle cx="242.7" cy="1145.6" r="6.0"/><circle cx="247" cy="1153.7" r="6.0"/><circle cx="250.6" cy="1135.3" r="6.0"/><circle cx="253.9" cy="1169.1" r="6.0"/><circle cx="257.9" cy="1128" r="6.0"/><circle cx="262.9" cy="1113.1" r="6.0"/><circle cx="267.5" cy="1134.4" r="6.0"/><circle cx="270.8" cy="1138.8" r="6.0"/><circle cx="275.7" cy="1143.3" r="6.0"/><circle cx="279.1" cy="1095.2" r="6.0"/><circle cx="283.3" cy="1101.1" r="6.0"/><circle cx="287.1" cy="1086.8" r="6.0"/><circle cx="291.6" cy="1091.9" r="6.0"/><circle cx="295.5" cy="1068.3" r="6.0"/><circle cx="297.6" cy="1050.8" r="6.0"/><circle cx="303.6" cy="1066.2" r="6.0"/><circle cx="304.6" cy="1042.6" r="6.0"/><circle cx="310.3" cy="1072.6" r="6.0"/><circle cx="314.5" cy="1027.8" r="6.0"/><circle cx="319" cy="1009.1" r="6.0"/><circle cx="322.8" cy="1073.2" r="6.0"/><circle cx="324.7" cy="1083.2" r="6.0"/><circle cx="328.2" cy="1026.3" r="6.0"/><circle cx="332.9" cy="1035.2" r="6.0"/><circle cx="338.7" cy="969.9" r="6.0"/><circle cx="340.7" cy="991.3" r="6.0"/><circle cx="345.2" cy="995.3" r="6.0"/><circle cx="349.6" cy="943.6" r="6.0"/><circle cx="353.9" cy="1017.8" r="6.0"/><circle cx="355.9" cy="941.2" r="6.0"/><circle cx="360" cy="932.7" r="6.0"/><circle cx="365.1" cy="948.2" r="6.0"/><circle cx="368" cy="963.8" r="6.0"/><circle cx="373.5" cy="928.8" r="6.0"/><circle cx="377.8" cy="902.1" r="6.0"/><circle cx="380.5" cy="912.6" r="6.0"/><circle cx="382.9" cy="931.7" r="6.0"/><circle cx="388.7" cy="916.5" r="6.0"/><circle cx="393.2" cy="908.1" r="6.0"/><circle cx="395.2" cy="914.9" r="6.0"/><circle cx="400.6" cy="863.8" r="6.0"/><circle cx="402.9" cy="906.1" r="6.0"/><circle cx="408.3" cy="880.3" r="6.0"/><circle cx="411.2" cy="829.7" r="6.0"/><circle cx="416.4" cy="827.7" r="6.0"/><circle cx="419.7" cy="826.3" r="6.0"/><circle cx="422.6" cy="869.4" r="6.0"/><circle cx="427.9" cy="835.9" r="6.0"/><circle cx="431.2" cy="882.3" r="6.0"/><circle cx="434.1" cy="842.1" r="6.0"/><circle cx="439.8" cy="865.1" r="6.0"/><circle cx="442.4" cy="856.3" r="6.0"/><circle cx="448" cy="884.6" r="6.0"/><circle cx="449.4" cy="877" r="6.0"/><circle cx="453.3" cy="857" r="6.0"/><circle cx="458.9" cy="900.9" r="6.0"/><circle cx="461.1" cy="864" r="6.0"/><circle cx="465" cy="878.2" r="6.0"/><circle cx="470.8" cy="896.9" r="6.0"/><circle cx="475.4" cy="917.1" r="6.0"/><circle cx="478.9" cy="904.9" r="6.0"/><circle cx="482" cy="910.7" r="6.0"/><circle cx="486.5" cy="934.6" r="6.0"/><circle cx="489.8" cy="932.5" r="6.0"/><circle cx="494.9" cy="921.9" r="6.0"/><circle cx="497.6" cy="956.9" r="6.0"/><circle cx="500.6" cy="938.8" r="6.0"/><circle cx="504" cy="950.2" r="6.0"/><circle cx="509.5" cy="927.7" r="6.0"/><circle cx="512.5" cy="1025.5" r="6.0"/><circle cx="518" cy="975.1" r="6.0"/><circle cx="520.6" cy="1037.9" r="6.0"/><circle cx="525.3" cy="1076.1" r="6.0"/><circle cx="527.5" cy="1008" r="6.0"/><circle cx="533.6" cy="1051.6" r="6.0"/><circle cx="536.1" cy="1048.5" r="6.0"/><circle cx="540.4" cy="1118.4" r="6.0"/><circle cx="543" cy="1125" r="6.0"/><circle cx="548" cy="1104" r="6.0"/><circle cx="553.2" cy="1061.4" r="6.0"/><circle cx="554.9" cy="1078" r="6.0"/><circle cx="560.9" cy="1152.2" r="6.0"/><circle cx="564.5" cy="1136.6" r="6.0"/><circle cx="568.9" cy="1143.6" r="6.0"/><circle cx="573.3" cy="1142.6" r="6.0"/><circle cx="575.9" cy="1170.6" r="6.0"/><circle cx="579.7" cy="1173.4" r="6.0"/><circle cx="582.9" cy="1206.5" r="6.0"/><circle cx="588.9" cy="1224.3" r="6.0"/><circle cx="590.4" cy="1201.1" r="6.0"/><circle cx="595.7" cy="1191.1" r="6.0"/><circle cx="599.9" cy="1233.1" r="6.0"/><circle cx="603.1" cy="1228.5" r="6.0"/><circle cx="607.7" cy="1226.3" r="6.0"/><circle cx="610.9" cy="1228.3" r="6.0"/><circle cx="614.5" cy="1253.4" r="6.0"/><circle cx="620" cy="1226.1" r="6.0"/><circle cx="622.9" cy="1229.8" r="6.0"/><circle cx="625.9" cy="1262.4" r="6.0"/><circle cx="629.5" cy="1253.2" r="6.0"/><circle cx="635" cy="1235.3" r="6.0"/><circle cx="637.3" cy="1238.7" r="6.0"/><circle cx="643.4" cy="1253.3" r="6.0"/><circle cx="646.3" cy="1240.1" r="6.0"/><circle cx="649" cy="1260.5" r="6.0"/><circle cx="654" cy="1252.4" r="6.0"/><circle cx="659.1" cy="1238.3" r="6.0"/><circle cx="660.9" cy="1248.7" r="6.0"/><circle cx="664.6" cy="1238.8" r="6.0"/><circle cx="669.7" cy="1251.2" r="6.0"/><circle cx="672.7" cy="1252.3" r="6.0"/><circle cx="676" cy="1245.1" r="6.0"/><circle cx="681.1" cy="1257.8" r="6.0"/><circle cx="683.7" cy="1268.8" r="6.0"/><circle cx="688.6" cy="1238.6" r="6.0"/><circle cx="694" cy="1252.2" r="6.0"/><circle cx="695.9" cy="1250.9" r="6.0"/><circle cx="701.8" cy="1237.2" r="6.0"/><circle cx="704.3" cy="1264.7" r="6.0"/><circle cx="709.8" cy="1228.8" r="6.0"/><circle cx="712.2" cy="1235.4" r="6.0"/><circle cx="717" cy="1233.9" r="6.0"/><circle cx="721.4" cy="1231" r="6.0"/><circle cx="725.6" cy="1232.3" r="6.0"/><circle cx="728.5" cy="1224.1" r="6.0"/><circle cx="731.7" cy="1236.8" r="6.0"/><circle cx="736.5" cy="1238" r="6.0"/><circle cx="740.1" cy="1232.1" r="6.0"/><circle cx="742.8" cy="1229.5" r="6.0"/><circle cx="747.4" cy="1222.7" r="6.0"/><circle cx="751" cy="1216.4" r="6.0"/><circle cx="755.1" cy="1205.9" r="6.0"/><circle cx="758.9" cy="1237.8" r="6.0"/><circle cx="763.3" cy="1213.4" r="6.0"/><circle cx="767.2" cy="1169.4" r="6.0"/><circle cx="770.1" cy="1221" r="6.0"/><circle cx="916.9" cy="1267.4" r="6.0"/><circle cx="919.5" cy="1263.7" r="6.0"/><circle cx="923.4" cy="1267.1" r="6.0"/><circle cx="928.9" cy="1270.5" r="6.0"/><circle cx="932.3" cy="1283.8" r="6.0"/><circle cx="935.3" cy="1286.8" r="6.0"/><circle cx="940" cy="1288.6" r="6.0"/><circle cx="942.6" cy="1289.9" r="6.0"/><circle cx="948.4" cy="1278.4" r="6.0"/><circle cx="950.3" cy="1288.3" r="6.0"/><circle cx="953.6" cy="1295.3" r="6.0"/><circle cx="958.4" cy="1279.7" r="6.0"/><circle cx="963.2" cy="1282.4" r="6.0"/><circle cx="966.2" cy="1292.8" r="6.0"/><circle cx="971" cy="1289.6" r="6.0"/><circle cx="975.4" cy="1284.9" r="6.0"/><circle cx="977.8" cy="1295.1" r="6.0"/><circle cx="982.4" cy="1297.7" r="6.0"/><circle cx="985.9" cy="1269.5" r="6.0"/><circle cx="988.7" cy="1257.3" r="6.0"/><path d="M207.4 1199.5L214.8 1211.5L200 1211.5Z"/><path d="M213.7 1216.1L221.1 1228.1L206.3 1228.1Z"/><path d="M214.8 1185.1L222.2 1197.1L207.4 1197.1Z"/><path d="M221.6 1214.1L229 1226.1L214.2 1226.1Z"/><path d="M225 1166.4L232.4 1178.4L217.6 1178.4Z"/><path d="M226.6 1180.8L234 1192.8L219.2 1192.8Z"/><path d="M230.6 1137.8L238 1149.8L223.2 1149.8Z"/><path d="M234.6 1156.4L242 1168.4L227.2 1168.4Z"/><path d="M240.7 1164.3L248.1 1176.3L233.3 1176.3Z"/><path d="M242.3 1159.1L249.7 1171.1L234.9 1171.1Z"/><path d="M246.5 1130L253.9 1142L239.1 1142Z"/><path d="M252.5 1148.1L259.9 1160.1L245.1 1160.1Z"/><path d="M255.5 1127.5L262.9 1139.5L248.1 1139.5Z"/><path d="M260.4 1117L267.8 1129L253 1129Z"/><path d="M262.6 1148.6L270 1160.6L255.2 1160.6Z"/><path d="M267.6 1147.7L275 1159.7L260.2 1159.7Z"/><path d="M271.6 1140.6L279 1152.6L264.2 1152.6Z"/><path d="M274.5 1131.2L281.9 1143.2L267.1 1143.2Z"/><path d="M280.2 1123.7L287.6 1135.7L272.8 1135.7Z"/><path d="M281.2 1100.6L288.6 1112.6L273.8 1112.6Z"/><path d="M285.9 1096.2L293.3 1108.2L278.5 1108.2Z"/><path d="M289.5 1070.7L296.9 1082.7L282.1 1082.7Z"/><path d="M295.3 1095.9L302.7 1107.9L287.9 1107.9Z"/><path d="M298.6 1067L306 1079L291.2 1079Z"/><path d="M302.8 1068.9L310.2 1080.9L295.4 1080.9Z"/><path d="M305 1029.4L312.4 1041.4L297.6 1041.4Z"/><path d="M309.9 1030L317.3 1042L302.5 1042Z"/><path d="M314.2 1070.9L321.6 1082.9L306.8 1082.9Z"/><path d="M318.1 1081.9L325.5 1093.9L310.7 1093.9Z"/><path d="M322.3 1069.4L329.7 1081.4L314.9 1081.4Z"/><path d="M325 1077.6L332.4 1089.6L317.6 1089.6Z"/><path d="M330.4 972.3L337.8 984.3L323 984.3Z"/><path d="M334.4 1017.3L341.8 1029.3L327 1029.3Z"/><path d="M337.7 1000L345.1 1012L330.3 1012Z"/><path d="M342.6 994.2L350 1006.2L335.2 1006.2Z"/><path d="M344.8 1015.7L352.2 1027.7L337.4 1027.7Z"/><path d="M348.3 980.1L355.7 992.1L340.9 992.1Z"/><path d="M354.2 928.7L361.6 940.7L346.8 940.7Z"/><path d="M355.7 989.6L363.1 1001.6L348.3 1001.6Z"/><path d="M360.8 921.6L368.2 933.6L353.4 933.6Z"/><path d="M365.4 960.2L372.8 972.2L358 972.2Z"/><path d="M367.8 946.2L375.2 958.2L360.4 958.2Z"/><path d="M371 913.1L378.4 925.1L363.6 925.1Z"/><path d="M375.5 904.3L382.9 916.3L368.1 916.3Z"/><path d="M381.3 931.9L388.7 943.9L373.9 943.9Z"/><path d="M384.3 889.7L391.7 901.7L376.9 901.7Z"/><path d="M387.2 865.6L394.6 877.6L379.8 877.6Z"/><path d="M392.3 879.3L399.7 891.3L384.9 891.3Z"/><path d="M397.1 903.7L404.5 915.7L389.7 915.7Z"/><path d="M398.4 855.5L405.8 867.5L391 867.5Z"/><path d="M403.8 849.9L411.2 861.9L396.4 861.9Z"/><path d="M406.9 847L414.3 859L399.5 859Z"/><path d="M413 856.6L420.4 868.6L405.6 868.6Z"/><path d="M414.4 849.1L421.8 861.1L407 861.1Z"/><path d="M419 834.8L426.4 846.8L411.6 846.8Z"/><path d="M422.3 865.2L429.7 877.2L414.9 877.2Z"/><path d="M427 851.2L434.4 863.2L419.6 863.2Z"/><path d="M431.4 836.6L438.8 848.6L424 848.6Z"/><path d="M434.9 845.5L442.3 857.5L427.5 857.5Z"/><path d="M437.8 873L445.2 885L430.4 885Z"/><path d="M443.6 847.1L451 859.1L436.2 859.1Z"/><path d="M447.1 845.1L454.5 857.1L439.7 857.1Z"/><path d="M449.8 856.6L457.2 868.6L442.4 868.6Z"/><path d="M454.3 857.5L461.7 869.5L446.9 869.5Z"/><path d="M458.2 866.7L465.6 878.7L450.8 878.7Z"/><path d="M463.2 859.5L470.6 871.5L455.8 871.5Z"/><path d="M465.8 891.7L473.2 903.7L458.4 903.7Z"/><path d="M471.1 878.6L478.5 890.6L463.7 890.6Z"/><path d="M473.8 885.5L481.2 897.5L466.4 897.5Z"/><path d="M479.1 886.7L486.5 898.7L471.7 898.7Z"/><path d="M482 914.8L489.4 926.8L474.6 926.8Z"/><path d="M486.3 892.7L493.7 904.7L478.9 904.7Z"/><path d="M489.7 912.6L497.1 924.6L482.3 924.6Z"/><path d="M494.6 951.1L502 963.1L487.2 963.1Z"/><path d="M498.3 980.1L505.7 992.1L490.9 992.1Z"/><path d="M500.3 955.3L507.7 967.3L492.9 967.3Z"/><path d="M504.4 914.8L511.8 926.8L497 926.8Z"/><path d="M508.7 963.6L516.1 975.6L501.3 975.6Z"/><path d="M513.1 928.9L520.5 940.9L505.7 940.9Z"/><path d="M517.6 947.3L525 959.3L510.2 959.3Z"/><path d="M520.5 963.3L527.9 975.3L513.1 975.3Z"/><path d="M523.4 1043.8L530.8 1055.8L516 1055.8Z"/><path d="M530.2 1048.9L537.6 1060.9L522.8 1060.9Z"/><path d="M532.8 1053.7L540.2 1065.7L525.4 1065.7Z"/><path d="M536.2 1078.2L543.6 1090.2L528.8 1090.2Z"/><path d="M541.2 1045.6L548.6 1057.6L533.8 1057.6Z"/><path d="M544.1 1079.1L551.5 1091.1L536.7 1091.1Z"/><path d="M549.7 1090.9L557.1 1102.9L542.3 1102.9Z"/><path d="M551.3 1080.1L558.7 1092.1L543.9 1092.1Z"/><path d="M557.4 1097.2L564.8 1109.2L550 1109.2Z"/><path d="M559.8 1130.4L567.2 1142.4L552.4 1142.4Z"/><path d="M562.8 1101.5L570.2 1113.5L555.4 1113.5Z"/><path d="M567.4 1122.5L574.8 1134.5L560 1134.5Z"/><path d="M572.2 1095.6L579.6 1107.6L564.8 1107.6Z"/><path d="M574.6 1187.4L582 1199.4L567.2 1199.4Z"/><path d="M580.6 1172.8L588 1184.8L573.2 1184.8Z"/><path d="M583.7 1147.7L591.1 1159.7L576.3 1159.7Z"/><path d="M587.1 1192.6L594.5 1204.6L579.7 1204.6Z"/><path d="M591.4 1185.7L598.8 1197.7L584 1197.7Z"/><path d="M595.1 1201.6L602.5 1213.6L587.7 1213.6Z"/><path d="M598.9 1210.5L606.3 1222.5L591.5 1222.5Z"/><path d="M603.7 1238.6L611.1 1250.6L596.3 1250.6Z"/><path d="M607 1222.3L614.4 1234.3L599.6 1234.3Z"/><path d="M612.1 1250.6L619.5 1262.6L604.7 1262.6Z"/><path d="M613.6 1245.4L621 1257.4L606.2 1257.4Z"/><path d="M619.9 1249.8L627.3 1261.8L612.5 1261.8Z"/><path d="M623.9 1257.2L631.3 1269.2L616.5 1269.2Z"/><path d="M626.4 1230L633.8 1242L619 1242Z"/><path d="M631.1 1235.2L638.5 1247.2L623.7 1247.2Z"/><path d="M633.5 1234.9L640.9 1246.9L626.1 1246.9Z"/><path d="M639.4 1244.5L646.8 1256.5L632 1256.5Z"/><path d="M642 1242.2L649.4 1254.2L634.6 1254.2Z"/><path d="M646.8 1232.3L654.2 1244.3L639.4 1244.3Z"/><path d="M649.6 1255L657 1267L642.2 1267Z"/><path d="M653.9 1252.3L661.3 1264.3L646.5 1264.3Z"/><path d="M657.6 1250.7L665 1262.7L650.2 1262.7Z"/><path d="M662 1249.6L669.4 1261.6L654.6 1261.6Z"/><path d="M664.9 1252.8L672.3 1264.8L657.5 1264.8Z"/><path d="M668.1 1237.5L675.5 1249.5L660.7 1249.5Z"/><path d="M672.4 1249.4L679.8 1261.4L665 1261.4Z"/><path d="M677.3 1251.9L684.7 1263.9L669.9 1263.9Z"/><path d="M680.9 1232.5L688.3 1244.5L673.5 1244.5Z"/><path d="M685.3 1228.5L692.7 1240.5L677.9 1240.5Z"/><path d="M689.5 1219.4L696.9 1231.4L682.1 1231.4Z"/><path d="M692.6 1254L700 1266L685.2 1266Z"/><path d="M696.3 1239.9L703.7 1251.9L688.9 1251.9Z"/><path d="M700.1 1222.5L707.5 1234.5L692.7 1234.5Z"/><path d="M706 1236.6L713.4 1248.6L698.6 1248.6Z"/><path d="M708 1250.4L715.4 1262.4L700.6 1262.4Z"/><path d="M711.9 1235.7L719.3 1247.7L704.5 1247.7Z"/><path d="M715.7 1244.1L723.1 1256.1L708.3 1256.1Z"/><path d="M718.9 1239.9L726.3 1251.9L711.5 1251.9Z"/><path d="M724.7 1249.7L732.1 1261.7L717.3 1261.7Z"/><path d="M727.6 1232.4L735 1244.4L720.2 1244.4Z"/><path d="M731.5 1228.5L738.9 1240.5L724.1 1240.5Z"/><path d="M734.6 1226.9L742 1238.9L727.2 1238.9Z"/><path d="M741 1228.5L748.4 1240.5L733.6 1240.5Z"/><path d="M745.1 1233.9L752.5 1245.9L737.7 1245.9Z"/><path d="M748.9 1197L756.3 1209L741.5 1209Z"/><path d="M752.1 1202.6L759.5 1214.6L744.7 1214.6Z"/><path d="M755.6 1230.2L763 1242.2L748.2 1242.2Z"/><path d="M760.8 1226.8L768.2 1238.8L753.4 1238.8Z"/><path d="M762.5 1188.6L769.9 1200.6L755.1 1200.6Z"/><path d="M766 1191.9L773.4 1203.9L758.6 1203.9Z"/><path d="M771.1 1206.3L778.5 1218.3L763.7 1218.3Z"/><path d="M919.8 1252.3L927.2 1264.3L912.4 1264.3Z"/><path d="M925 1267.6L932.4 1279.6L917.6 1279.6Z"/><path d="M926.6 1272.9L934 1284.9L919.2 1284.9Z"/><path d="M932 1263.2L939.4 1275.2L924.6 1275.2Z"/><path d="M935.4 1278.4L942.8 1290.4L928 1290.4Z"/><path d="M938.1 1269.5L945.5 1281.5L930.7 1281.5Z"/><path d="M944.1 1278.5L951.5 1290.5L936.7 1290.5Z"/><path d="M947.5 1276.2L954.9 1288.2L940.1 1288.2Z"/><path d="M949.8 1282.9L957.2 1294.9L942.4 1294.9Z"/><path d="M955.3 1284.8L962.7 1296.8L947.9 1296.8Z"/><path d="M958.6 1280.6L966 1292.6L951.2 1292.6Z"/><path d="M963.7 1285L971.1 1297L956.3 1297Z"/><path d="M965.8 1279.9L973.2 1291.9L958.4 1291.9Z"/><path d="M969.7 1276.8L977.1 1288.8L962.3 1288.8Z"/><path d="M973.9 1272.1L981.3 1284.1L966.5 1284.1Z"/><path d="M977.8 1272.1L985.2 1284.1L970.4 1284.1Z"/><path d="M982.6 1278.9L990 1290.9L975.2 1290.9Z"/><path d="M985.6 1250.3L993 1262.3L978.2 1262.3Z"/><path d="M990.9 1278.9L998.3 1290.9L983.5 1290.9Z"/><path d="M208.7 1222.7L216.1 1210.7L201.3 1210.7Z"/><path d="M212.7 1209.6L220.1 1197.6L205.3 1197.6Z"/><path d="M216 1220.8L223.4 1208.8L208.6 1208.8Z"/><path d="M221.1 1207.9L228.5 1195.9L213.7 1195.9Z"/><path d="M225.4 1210.5L232.8 1198.5L218 1198.5Z"/><path d="M228.7 1166.8L236.1 1154.8L221.3 1154.8Z"/><path d="M232.7 1156L240.1 1144L225.3 1144Z"/><path d="M234.8 1159.5L242.2 1147.5L227.4 1147.5Z"/><path d="M238.4 1201.3L245.8 1189.3L231 1189.3Z"/><path d="M242.7 1172.9L250.1 1160.9L235.3 1160.9Z"/><path d="M248.7 1179.9L256.1 1167.9L241.3 1167.9Z"/><path d="M251.1 1136.6L258.5 1124.6L243.7 1124.6Z"/><path d="M254.3 1162.9L261.7 1150.9L246.9 1150.9Z"/><path d="M257.7 1136.7L265.1 1124.7L250.3 1124.7Z"/><path d="M264.5 1147.9L271.9 1135.9L257.1 1135.9Z"/><path d="M265.5 1145.8L272.9 1133.8L258.1 1133.8Z"/><path d="M271.6 1143L279 1131L264.2 1131Z"/><path d="M275.9 1127L283.3 1115L268.5 1115Z"/><path d="M279.4 1101.5L286.8 1089.5L272 1089.5Z"/><path d="M282.5 1083.1L289.9 1071.1L275.1 1071.1Z"/><path d="M285.6 1072.3L293 1060.3L278.2 1060.3Z"/><path d="M291.3 1117.4L298.7 1105.4L283.9 1105.4Z"/><path d="M295 1116.7L302.4 1104.7L287.6 1104.7Z"/><path d="M297.7 1106L305.1 1094L290.3 1094Z"/><path d="M301.6 1099L309 1087L294.2 1087Z"/><path d="M306.4 1068.8L313.8 1056.8L299 1056.8Z"/><path d="M308.5 1067.6L315.9 1055.6L301.1 1055.6Z"/><path d="M313.5 1087.4L320.9 1075.4L306.1 1075.4Z"/><path d="M317.4 1064.2L324.8 1052.2L310 1052.2Z"/><path d="M322.1 1072L329.5 1060L314.7 1060Z"/><path d="M326.7 1024.6L334.1 1012.6L319.3 1012.6Z"/><path d="M330.4 995.3L337.8 983.3L323 983.3Z"/><path d="M334.7 1013.8L342.1 1001.8L327.3 1001.8Z"/><path d="M338.3 1015.5L345.7 1003.5L330.9 1003.5Z"/><path d="M341.4 981.5L348.8 969.5L334 969.5Z"/><path d="M345.3 1000.6L352.7 988.6L337.9 988.6Z"/><path d="M347.9 990.2L355.3 978.2L340.5 978.2Z"/><path d="M353.8 931.5L361.2 919.5L346.4 919.5Z"/><path d="M355.7 978.8L363.1 966.8L348.3 966.8Z"/><path d="M359.9 980.9L367.3 968.9L352.5 968.9Z"/><path d="M365.9 937.9L373.3 925.9L358.5 925.9Z"/><path d="M367.9 921.9L375.3 909.9L360.5 909.9Z"/><path d="M373 960L380.4 948L365.6 948Z"/><path d="M375.2 915.9L382.6 903.9L367.8 903.9Z"/><path d="M381.6 890L389 878L374.2 878Z"/><path d="M384.5 876.3L391.9 864.3L377.1 864.3Z"/><path d="M388.2 865.6L395.6 853.6L380.8 853.6Z"/><path d="M393.5 914.5L400.9 902.5L386.1 902.5Z"/><path d="M396.5 907.7L403.9 895.7L389.1 895.7Z"/><path d="M400.3 890.4L407.7 878.4L392.9 878.4Z"/><path d="M405.2 880.7L412.6 868.7L397.8 868.7Z"/><path d="M406.3 844.2L413.7 832.2L398.9 832.2Z"/><path d="M413 874.6L420.4 862.6L405.6 862.6Z"/><path d="M414.5 863.7L421.9 851.7L407.1 851.7Z"/><path d="M419.8 865.5L427.2 853.5L412.4 853.5Z"/><path d="M423 887.1L430.4 875.1L415.6 875.1Z"/><path d="M428.6 853.4L436 841.4L421.2 841.4Z"/><path d="M431.5 865.8L438.9 853.8L424.1 853.8Z"/><path d="M435.3 865.6L442.7 853.6L427.9 853.6Z"/><path d="M439.8 875.3L447.2 863.3L432.4 863.3Z"/><path d="M442.1 890.8L449.5 878.8L434.7 878.8Z"/><path d="M446.9 856.8L454.3 844.8L439.5 844.8Z"/><path d="M451.4 891.9L458.8 879.9L444 879.9Z"/><path d="M455.5 876.5L462.9 864.5L448.1 864.5Z"/><path d="M457.2 900.3L464.6 888.3L449.8 888.3Z"/><path d="M461.5 896.5L468.9 884.5L454.1 884.5Z"/><path d="M465.9 877.3L473.3 865.3L458.5 865.3Z"/><path d="M469.6 894.3L477 882.3L462.2 882.3Z"/><path d="M473.2 905.9L480.6 893.9L465.8 893.9Z"/><path d="M476.6 907.6L484 895.6L469.2 895.6Z"/><path d="M480.7 892.2L488.1 880.2L473.3 880.2Z"/><path d="M485 931.4L492.4 919.4L477.6 919.4Z"/><path d="M490.4 936.6L497.8 924.6L483 924.6Z"/><path d="M495 946.6L502.4 934.6L487.6 934.6Z"/><path d="M497.2 912.7L504.6 900.7L489.8 900.7Z"/><path d="M502.3 921.1L509.7 909.1L494.9 909.1Z"/><path d="M504.6 989.3L512 977.3L497.2 977.3Z"/><path d="M510.2 970.1L517.6 958.1L502.8 958.1Z"/><path d="M511.8 1038.5L519.2 1026.5L504.4 1026.5Z"/><path d="M515.6 983.9L523 971.9L508.2 971.9Z"/><path d="M522.1 1015.7L529.5 1003.7L514.7 1003.7Z"/><path d="M525.9 1066.7L533.3 1054.7L518.5 1054.7Z"/><path d="M529.9 1030.5L537.3 1018.5L522.5 1018.5Z"/><path d="M531.7 1094.8L539.1 1082.8L524.3 1082.8Z"/><path d="M535.4 1061.7L542.8 1049.7L528 1049.7Z"/><path d="M540.7 1078.2L548.1 1066.2L533.3 1066.2Z"/><path d="M543.8 1073.2L551.2 1061.2L536.4 1061.2Z"/><path d="M549 1081.8L556.4 1069.8L541.6 1069.8Z"/><path d="M553.3 1116.5L560.7 1104.5L545.9 1104.5Z"/><path d="M556.2 1130.3L563.6 1118.3L548.8 1118.3Z"/><path d="M561.5 1156.8L568.9 1144.8L554.1 1144.8Z"/><path d="M564 1162.1L571.4 1150.1L556.6 1150.1Z"/><path d="M566.8 1158.6L574.2 1146.6L559.4 1146.6Z"/><path d="M570.5 1110.9L577.9 1098.9L563.1 1098.9Z"/><path d="M574.6 1193.5L582 1181.5L567.2 1181.5Z"/><path d="M578.5 1195.3L585.9 1183.3L571.1 1183.3Z"/><path d="M582.1 1161.8L589.5 1149.8L574.7 1149.8Z"/><path d="M588.3 1175.3L595.7 1163.3L580.9 1163.3Z"/><path d="M591.5 1202.7L598.9 1190.7L584.1 1190.7Z"/><path d="M595.6 1229.1L603 1217.1L588.2 1217.1Z"/><path d="M599.3 1245.4L606.7 1233.4L591.9 1233.4Z"/><path d="M603.8 1238.9L611.2 1226.9L596.4 1226.9Z"/><path d="M605.6 1245.4L613 1233.4L598.2 1233.4Z"/><path d="M611.4 1259L618.8 1247L604 1247Z"/><path d="M613.6 1248.6L621 1236.6L606.2 1236.6Z"/><path d="M618.4 1244.8L625.8 1232.8L611 1232.8Z"/><path d="M622.5 1241.8L629.9 1229.8L615.1 1229.8Z"/><path d="M627.6 1272.1L635 1260.1L620.2 1260.1Z"/><path d="M631.6 1268.1L639 1256.1L624.2 1256.1Z"/><path d="M634.9 1243.9L642.3 1231.9L627.5 1231.9Z"/><path d="M637.4 1247.5L644.8 1235.5L630 1235.5Z"/><path d="M642.2 1238.6L649.6 1226.6L634.8 1226.6Z"/><path d="M645.4 1255.6L652.8 1243.6L638 1243.6Z"/><path d="M649.9 1243.2L657.3 1231.2L642.5 1231.2Z"/><path d="M654.4 1255L661.8 1243L647 1243Z"/><path d="M658.6 1264.4L666 1252.4L651.2 1252.4Z"/><path d="M661.9 1267.6L669.3 1255.6L654.5 1255.6Z"/><path d="M664.3 1269.1L671.7 1257.1L656.9 1257.1Z"/><path d="M669.9 1257L677.3 1245L662.5 1245Z"/><path d="M674.4 1265.9L681.8 1253.9L667 1253.9Z"/><path d="M678.8 1240.1L686.2 1228.1L671.4 1228.1Z"/><path d="M681 1236.2L688.4 1224.2L673.6 1224.2Z"/><path d="M685 1272.6L692.4 1260.6L677.6 1260.6Z"/><path d="M688.6 1261.9L696 1249.9L681.2 1249.9Z"/><path d="M692.1 1246.9L699.5 1234.9L684.7 1234.9Z"/><path d="M698.3 1263.7L705.7 1251.7L690.9 1251.7Z"/><path d="M699.8 1245.7L707.2 1233.7L692.4 1233.7Z"/><path d="M705.5 1263.2L712.9 1251.2L698.1 1251.2Z"/><path d="M708.6 1237.2L716 1225.2L701.2 1225.2Z"/><path d="M712.6 1238L720 1226L705.2 1226Z"/><path d="M716.1 1245.3L723.5 1233.3L708.7 1233.3Z"/><path d="M720.5 1258.8L727.9 1246.8L713.1 1246.8Z"/><path d="M725.3 1236.7L732.7 1224.7L717.9 1224.7Z"/><path d="M727.4 1233.3L734.8 1221.3L720 1221.3Z"/><path d="M731 1247.3L738.4 1235.3L723.6 1235.3Z"/><path d="M734.6 1243.1L742 1231.1L727.2 1231.1Z"/><path d="M739.1 1246.9L746.5 1234.9L731.7 1234.9Z"/><path d="M744.1 1241.2L751.5 1229.2L736.7 1229.2Z"/><path d="M746.6 1234.1L754 1222.1L739.2 1222.1Z"/><path d="M750.1 1232.7L757.5 1220.7L742.7 1220.7Z"/><path d="M756.9 1215.5L764.3 1203.5L749.5 1203.5Z"/><path d="M758.4 1230L765.8 1218L751 1218Z"/><path d="M762.8 1196.1L770.2 1184.1L755.4 1184.1Z"/><path d="M768 1201.3L775.4 1189.3L760.6 1189.3Z"/><path d="M770.8 1213.4L778.2 1201.4L763.4 1201.4Z"/><path d="M916.7 1267.1L924.1 1255.1L909.3 1255.1Z"/><path d="M918.2 1266.9L925.6 1254.9L910.8 1254.9Z"/><path d="M922.9 1277.7L930.3 1265.7L915.5 1265.7Z"/><path d="M927.9 1290.3L935.3 1278.3L920.5 1278.3Z"/><path d="M932.2 1281.5L939.6 1269.5L924.8 1269.5Z"/><path d="M935.2 1277.9L942.6 1265.9L927.8 1265.9Z"/><path d="M937.9 1274.5L945.3 1262.5L930.5 1262.5Z"/><path d="M944.3 1279.4L951.7 1267.4L936.9 1267.4Z"/><path d="M945.5 1286.1L952.9 1274.1L938.1 1274.1Z"/><path d="M950.8 1284.4L958.2 1272.4L943.4 1272.4Z"/><path d="M954.4 1288.8L961.8 1276.8L947 1276.8Z"/><path d="M960 1290.6L967.4 1278.6L952.6 1278.6Z"/><path d="M962.5 1303L969.9 1291L955.1 1291Z"/><path d="M967.9 1287.9L975.3 1275.9L960.5 1275.9Z"/><path d="M969.9 1300.6L977.3 1288.6L962.5 1288.6Z"/><path d="M975 1294.3L982.4 1282.3L967.6 1282.3Z"/><path d="M977.7 1293L985.1 1281L970.3 1281Z"/><path d="M983.6 1261.7L991 1249.7L976.2 1249.7Z"/><path d="M985.7 1292.8L993.1 1280.8L978.3 1280.8Z"/><path d="M990.8 1260.9L998.2 1248.9L983.4 1248.9Z"/><circle cx="787" cy="1091.4" r="6.0"/><circle cx="781" cy="1108" r="6.0"/><circle cx="790" cy="1111" r="6.0"/><circle cx="776.8" cy="1128" r="6.0"/><circle cx="805" cy="1140" r="6.0"/><circle cx="820" cy="1158" r="6.0"/><circle cx="805" cy="1170" r="6.0"/><circle cx="790" cy="1178" r="6.0"/><circle cx="767" cy="1177" r="6.0"/><circle cx="772" cy="1210" r="6.0"/><circle cx="918" cy="1250" r="6.0"/><circle cx="572" cy="1112" r="6.0"/><circle cx="576.5" cy="1152" r="6.0"/><circle cx="606.2" cy="1162.5" r="6.0"/><circle cx="615" cy="1179" r="6.0"/><circle cx="600.2" cy="1184.8" r="6.0"/><circle cx="621" cy="1202.7" r="6.0"/><circle cx="370.5" cy="849.2" r="6.0"/><circle cx="381" cy="849.2" r="6.0"/><circle cx="367" cy="884.4" r="6.0"/><circle cx="385.5" cy="873.8" r="6.0"/><circle cx="787" cy="1091" r="6.0"/><circle cx="986.9" cy="1232.6" r="6.0"/><circle cx="810.2" cy="1190.9" r="6.0"/><circle cx="803.7" cy="1167.3" r="6.0"/><circle cx="815.3" cy="1155.4" r="6.0"/><circle cx="779.9" cy="1183.4" r="6.0"/><circle cx="808.3" cy="1158" r="6.0"/><circle cx="803.4" cy="1174.8" r="6.0"/><circle cx="788.5" cy="1152" r="6.0"/><circle cx="788.7" cy="1169.4" r="6.0"/><circle cx="807" cy="1177" r="6.0"/><circle cx="792.7" cy="1167.7" r="6.0"/><circle cx="801.8" cy="1152.1" r="6.0"/><circle cx="800.6" cy="1186.4" r="6.0"/><circle cx="776.6" cy="1157.3" r="6.0"/><path d="M406 818.5L413.4 830.5L398.6 830.5Z"/><path d="M414 816.5L421.4 828.5L406.6 828.5Z"/><path d="M421 818.5L428.4 830.5L413.6 830.5Z"/><path d="M426 824.5L433.4 836.5L418.6 836.5Z"/><path d="M792 1133.5L799.4 1145.5L784.6 1145.5Z"/><path d="M814 1145.5L821.4 1157.5L806.6 1157.5Z"/><path d="M795 1158.5L802.4 1170.5L787.6 1170.5Z"/><path d="M800 1169.5L807.4 1181.5L792.6 1181.5Z"/><path d="M775 1185.5L782.4 1197.5L767.6 1197.5Z"/><path d="M780 1193.5L787.4 1205.5L772.6 1205.5Z"/><path d="M920 1275.5L927.4 1287.5L912.6 1287.5Z"/><path d="M793.1 1182L800.5 1194L785.7 1194Z"/><path d="M782.2 1189L789.6 1201L774.8 1201Z"/><path d="M789.2 1178.4L796.6 1190.4L781.8 1190.4Z"/><path d="M813.2 1132.8L820.6 1144.8L805.8 1144.8Z"/><path d="M825.3 1137.6L832.7 1149.6L817.9 1149.6Z"/><path d="M776.7 1173.4L784.1 1185.4L769.3 1185.4Z"/><path d="M775.7 1168.9L783.1 1180.9L768.3 1180.9Z"/><path d="M779.2 1169.1L786.6 1181.1L771.8 1181.1Z"/><path d="M778.2 1184L785.6 1196L770.8 1196Z"/><path d="M789.7 1139.2L797.1 1151.2L782.3 1151.2Z"/><path d="M795 1130L802.4 1142L787.6 1142Z"/><path d="M418 838.5L425.4 826.5L410.6 826.5Z"/><path d="M430 846.5L437.4 834.5L422.6 834.5Z"/><path d="M798 1143.5L805.4 1131.5L790.6 1131.5Z"/><path d="M822 1152.5L829.4 1140.5L814.6 1140.5Z"/><path d="M785 1174.5L792.4 1162.5L777.6 1162.5Z"/><path d="M815 1178.5L822.4 1166.5L807.6 1166.5Z"/><path d="M810 1191.5L817.4 1179.5L802.6 1179.5Z"/><path d="M765 1202.5L772.4 1190.5L757.6 1190.5Z"/><path d="M785 1194.5L792.4 1182.5L777.6 1182.5Z"/><path d="M371.5 997.5L378.9 985.5L364.1 985.5Z"/><path d="M808.6 1185.9L816 1173.9L801.2 1173.9Z"/><path d="M798.1 1183.5L805.5 1171.5L790.7 1171.5Z"/><path d="M791.1 1199L798.5 1187L783.7 1187Z"/><path d="M795.2 1149.6L802.6 1137.6L787.8 1137.6Z"/><path d="M791.3 1150.5L798.7 1138.5L783.9 1138.5Z"/><path d="M778.8 1198.9L786.2 1186.9L771.4 1186.9Z"/><path d="M798.1 1167.6L805.5 1155.6L790.7 1155.6Z"/><circle cx="871.2" cy="805.8" r="6.0"/><circle cx="865.5" cy="847.9" r="6.0"/><circle cx="860.4" cy="867" r="6.0"/><circle cx="856" cy="909.5" r="6.0"/><circle cx="879.5" cy="919" r="6.0"/><circle cx="839.7" cy="981" r="6.0"/><circle cx="885.4" cy="999.7" r="6.0"/><circle cx="830.3" cy="1067.7" r="6.0"/><circle cx="887.7" cy="1087.6" r="6.0"/><circle cx="895.8" cy="1187.4" r="6.0"/><circle cx="903.7" cy="1205" r="6.0"/><circle cx="906" cy="1250" r="6.0"/><circle cx="912" cy="1236" r="6.0"/><circle cx="900" cy="1262" r="6.0"/><circle cx="870" cy="923.6" r="5.3" class="o"/><circle cx="874.8" cy="958.7" r="5.3" class="o"/><circle cx="856" cy="969.3" r="5.3" class="o"/><circle cx="878.3" cy="1010.3" r="5.3" class="o"/><circle cx="845.5" cy="1002" r="5.3" class="o"/><circle cx="836.2" cy="1044.3" r="5.3" class="o"/><circle cx="830.3" cy="1059.5" r="5.3" class="o"/><circle cx="884.2" cy="1078.3" r="5.3" class="o"/><circle cx="890.4" cy="1127.3" r="5.3" class="o"/><circle cx="894.9" cy="1173.3" r="5.3" class="o"/><circle cx="899.3" cy="1198" r="5.3" class="o"/><path d="M865.5 796.5L872.9 808.5L858.1 808.5Z" class="o"/><path d="M870.4 819L877.8 831L863 831Z" class="o"/><path d="M860.4 835L867.8 847L853 847Z" class="o"/><path d="M875.7 832.5L883.1 844.5L868.3 844.5Z" class="o"/><path d="M856 868.5L863.4 880.5L848.6 880.5Z" class="o"/><path d="M880.1 862L887.5 874L872.7 874Z" class="o"/><path d="M850.2 921.8L857.6 933.8L842.8 933.8Z" class="o"/><path d="M884.2 958.1L891.6 970.1L876.8 970.1Z" class="o"/><path d="M845.5 952.2L852.9 964.2L838.1 964.2Z" class="o"/><path d="M840.9 1007.3L848.3 1019.3L833.5 1019.3Z" class="o"/><path d="M890 1016.7L897.4 1028.7L882.6 1028.7Z" class="o"/><path d="M894.8 1051.8L902.2 1063.8L887.4 1063.8Z" class="o"/><path d="M829.1 1074.1L836.5 1086.1L821.7 1086.1Z" class="o"/><path d="M900.2 1106.5L907.6 1118.5L892.8 1118.5Z" class="o"/><path d="M906.4 1172.1L913.8 1184.1L899 1184.1Z" class="o"/><path d="M910.8 1189.8L918.2 1201.8L903.4 1201.8Z" class="o"/><path d="M914.3 1214.5L921.7 1226.5L906.9 1226.5Z" class="o"/><path d="M869.7 886.5L877.1 898.5L862.3 898.5Z"/><path d="M878.3 942.9L885.7 954.9L870.9 954.9Z"/><path d="M856 971L863.4 983L848.6 983Z"/><path d="M851.4 1009.5L858.8 1021.5L844 1021.5Z"/><path d="M886.5 1008.5L893.9 1020.5L879.1 1020.5Z"/><path d="M845.5 1043.5L852.9 1055.5L838.1 1055.5Z"/><path d="M840.9 1075.3L848.3 1087.3L833.5 1087.3Z"/><path d="M894.9 1159.7L902.3 1171.7L887.5 1171.7Z"/><path d="M898.4 1216.3L905.8 1228.3L891 1228.3Z"/><path d="M909 1255.5L916.4 1267.5L901.6 1267.5Z"/><path d="M829 1123.5L836.4 1135.5L821.6 1135.5Z"/><path d="M866 892.5L873.4 904.5L858.6 904.5Z"/><path d="M875.6 906.5L883 918.5L868.2 918.5Z"/><path d="M836.4 1096.5L843.8 1108.5L829 1108.5Z"/><path d="M897 1221.5L904.4 1233.5L889.6 1233.5Z"/><path d="M914 1263.5L921.4 1275.5L906.6 1275.5Z"/><path d="M828 1138.5L835.4 1150.5L820.6 1150.5Z"/><path d="M828.4 1144.3L835.8 1156.3L821 1156.3Z"/><path d="M828.6 1126.1L836 1138.1L821.2 1138.1Z"/><path d="M863 923L870.4 911L855.6 911Z"/><path d="M856 951.2L863.4 939.2L848.6 939.2Z"/><path d="M864.3 946.5L871.7 934.5L856.9 934.5Z"/><path d="M844.4 1000.5L851.8 988.5L837 988.5Z"/><path d="M874.8 998L882.2 986L867.4 986Z"/><path d="M836.2 1041.5L843.6 1029.5L828.8 1029.5Z"/><path d="M879.5 1042.5L886.9 1030.5L872.1 1030.5Z"/><path d="M890.4 1142.5L897.8 1130.5L883 1130.5Z"/><path d="M903.7 1246.5L911.1 1234.5L896.3 1234.5Z"/><path d="M870 952.5L877.4 940.5L862.6 940.5Z"/><path d="M848 972.5L855.4 960.5L840.6 960.5Z"/><path d="M839 1032.5L846.4 1020.5L831.6 1020.5Z"/><path d="M829.5 1098.5L836.9 1086.5L822.1 1086.5Z"/><path d="M886.5 1099.5L893.9 1087.5L879.1 1087.5Z"/><path d="M901 1238.5L908.4 1226.5L893.6 1226.5Z"/><path d="M905 1264.5L912.4 1252.5L897.6 1252.5Z"/><path d="M910 1286.5L917.4 1274.5L902.6 1274.5Z"/></g><g class="lgm"><circle cx="25.2" cy="867.5" r="9"/><circle cx="25.5" cy="911.9" r="8.3" class="o"/><path d="M25.2 945.5L35 961.5L15.4 961.5Z" class="o"/><path d="M25.5 989L35.7 1006.3L15.3 1006.3Z"/><path d="M25.5 1055L35.7 1037.3L15.3 1037.3Z"/></g><text x="67" y="879.5" class="lg">0.300 eV</text><text x="67" y="924" class="lg">0.200 eV</text><text x="67" y="968.5" class="lg">0.130 eV</text><text x="67" y="1012.5" class="lg">0.075 eV</text><text x="67" y="1056.5" class="lg">0.040 eV</text>
</svg>
</body></html>
